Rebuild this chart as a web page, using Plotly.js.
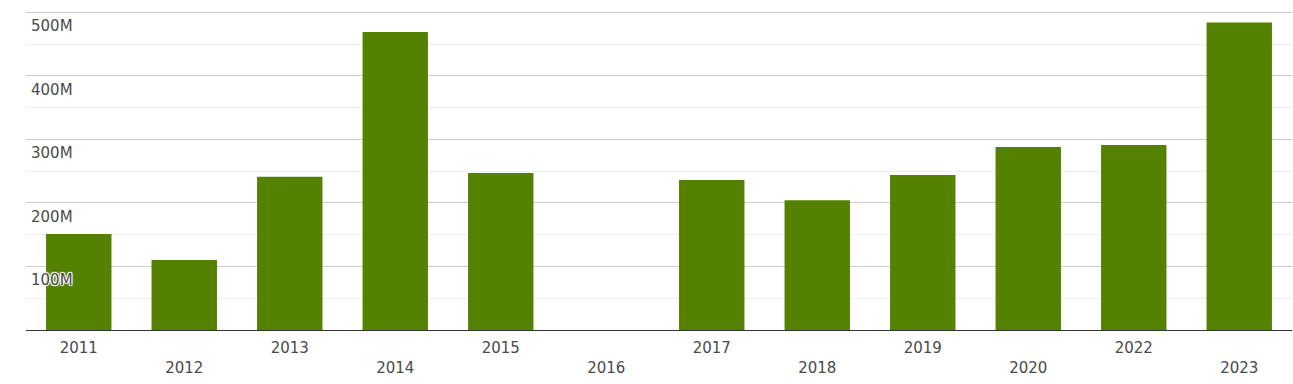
<!DOCTYPE html>
<html>
<head>
<meta charset="utf-8">
<script src="https://cdn.plot.ly/plotly-3.0.1.min.js"></script>
<style>html,body{margin:0;padding:0;background:#fff}#chart{width:1293px;height:384px}</style>
</head>
<body>
<div id="chart"></div>
<script>
const years = ["2011","2012","2013","2014","2015","2016","2017","2018","2019","2020","2022","2023"];
const values = [151e6, 110e6, 241e6, 469e6, 247e6, 0, 236e6, 204e6, 244e6, 288e6, 291e6, 484e6];
const yTickVals = [100e6, 200e6, 300e6, 400e6, 500e6];
const yTickText = ["100M", "200M", "300M", "400M", "500M"];
const xTickText = years.map((y, i) => (i % 2 === 1 ? "<br>" + y : y));

Plotly.newPlot("chart", [{
  type: "bar",
  x: years,
  y: values,
  marker: {color: "#548200"},
  hoverinfo: "x+y"
}], {
  width: 1293, height: 384,
  margin: {l: 26, r: 1, t: 11, b: 54},
  paper_bgcolor: "#fff", plot_bgcolor: "#fff",
  bargap: 0.38,
  showlegend: false,
  font: {family: "DejaVu Sans", size: 15, color: "#4a4a4a"},
  xaxis: {
    type: "category",
    range: [-0.5, years.length - 0.5],
    autorange: false,
    tickvals: years,
    ticktext: xTickText,
    showline: true, linecolor: "#333", linewidth: 1,
    ticks: "", showgrid: false, zeroline: false,
    ticklabelstandoff: 4,
    tickfont: {family: "DejaVu Sans", size: 15, color: "#4a4a4a"}
  },
  yaxis: {
    range: [0, 502e6],
    autorange: false,
    tickvals: yTickVals,
    ticktext: yTickText,
    ticklabelposition: "inside bottom",
    ticklabelshift: 3,
    ticklabelstandoff: 2,
    showgrid: true, gridcolor: "#ccc", gridwidth: 1,
    zeroline: false, ticks: "",
    minor: {dtick: 50e6, tick0: 0, showgrid: true, gridcolor: "#eee", ticks: ""},
    tickfont: {family: "DejaVu Sans", size: 15, color: "#4a4a4a", shadow: "1px 1px 1px #fff, -1px -1px 1px #fff, 1px -1px 1px #fff, -1px 1px 1px #fff"}
  }
}, {displayModeBar: false, staticPlot: true});
</script>
</body>
</html>
